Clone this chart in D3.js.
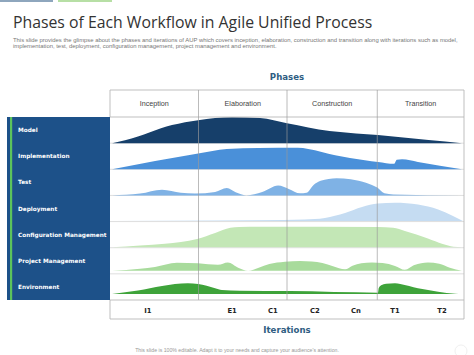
<!DOCTYPE html>
<html><head><meta charset="utf-8">
<script src="https://cdn.jsdelivr.net/npm/d3@7"></script>
<style>body{margin:0;background:#fff}svg{display:block}</style>
</head><body>
<svg id="c" width="474" height="355"></svg>
<script>
const phases = ["Inception", "Elaboration", "Construction", "Transition"];
const phaseBounds = [0, 25, 50, 75.5, 100];
const workflows = ["Model", "Implementation", "Test", "Deployment", "Configuration Management", "Project Management", "Environment"];
const iterations = ["I1", "E1", "C1", "C2", "Cn", "T1", "T2"];
const iterationPos = [10.7, 34.5, 46, 57.9, 69.5, 80.5, 93.8];

// effort profiles: [time (0-100), relative effort (0-1 of row)]
const modelValues = [[0.6,0],[7.9,.25],[11.3,.42],[17.5,.69],[24.9,.88],[34.5,.99],[42.4,.96],[50,.76],[62,.46],[69.5,.37],[75.7,.31],[90,.12],[99.4,0]];
const implementationValues = [[0.6,0],[24.9,.6],[33,.78],[42,.81],[53,.82],[56,.78],[63.6,.54],[72,.35],[75.7,.28],[80.3,.21],[81,.36],[82.5,.38],[87,.28],[99.4,0]];
const testValues = [[0.6,0],[8.5,.07],[14.7,.22],[20,.1],[24,.07],[29.7,.13],[33,.28],[35.5,.12],[38.5,0],[43,.13],[47.5,.38],[50.5,.25],[53.7,.08],[55.5,.1],[57.5,.4],[59.5,.56],[64,.66],[68,.62],[72.5,.48],[75.5,.3],[77.5,.08],[80,.04],[99.4,0]];
const deploymentValues = [[0.6,0],[30,.02],[49,.04],[55,.06],[60.7,.12],[66.4,.31],[71.2,.54],[75.7,.67],[80.5,.7],[87,.63],[92.7,.44],[96.6,.21],[99.7,0]];
const configValues = [[0.6,0],[8.5,.07],[15.5,.13],[24.6,.31],[29.7,.54],[34,.74],[36.5,.77],[42.4,.78],[75.7,.77],[80,.74],[83.3,.62],[89.8,.33],[94,.12],[97,.02],[99.4,0]];
const projectValues = [[0.6,0],[8.5,.08],[12.7,.15],[18.9,.31],[24.9,.29],[30.5,.23],[33.3,.32],[36.2,.12],[39,0],[42,.12],[45,.26],[49.4,.35],[53.7,.38],[57,.36],[60,.3],[63,.18],[66.4,.06],[68.5,.2],[71,.29],[74,.32],[77,.3],[80.5,.19],[83.3,.04],[86,.22],[89.8,.32],[93,.27],[96,.12],[99.4,0]];
const environmentValues = [[0.6,0],[7.9,.13],[14.7,.31],[22,.41],[24.9,.38],[29.7,.22],[31.6,.15],[36.7,.12],[50.8,.11],[75.7,.05],[75.9,.22],[76.6,.33],[78,.39],[80.5,.41],[82,.38],[87,.22],[92.7,.09],[97.5,.01],[99.4,0]];

const seriesValues = [modelValues, implementationValues, testValues, deploymentValues, configValues, projectValues, environmentValues];
const seriesColors = ["#163f6a", "#4a90d9", "#7fb2e5", "#c5dcf2", "#c3e7b6", "#a8db9c", "#3ea33a"];
const baselineInset = [0, 0, 0, 0.5, 0.5, 3, 6];

const svg = d3.select("#c");
const FONT = "'Open Sans', 'Liberation Sans', sans-serif";

// top decoration
svg.append("rect").attr("x", 0).attr("y", 0).attr("width", 53).attr("height", 2).attr("fill", "#8ea6bd");
svg.append("rect").attr("x", 58).attr("y", 0).attr("width", 54).attr("height", 2).attr("fill", "#b7dfa5");

// title + description
svg.append("text").attr("x", 13).attr("y", 28).text("Phases of Each Workflow in Agile Unified Process")
  .attr("font-family", FONT).attr("font-size", 15.8).attr("fill", "#333");
svg.append("text").attr("x", 13).attr("y", 41.5)
  .text("This slide provides the glimpse about the phases and iterations of AUP which covers inception, elaboration, construction and transition along with iterations such as model,")
  .attr("font-family", "'Liberation Sans', Arial, sans-serif").attr("font-size", 5.9).attr("fill", "#777");
svg.append("text").attr("x", 13).attr("y", 47.5)
  .text("implementation, test, deployment, configuration management, project management and environment.")
  .attr("font-family", "'Liberation Sans', Arial, sans-serif").attr("font-size", 5.9).attr("fill", "#777");

const x = d3.scaleLinear().domain([0, 100]).range([110, 464]);
const y = d3.scaleBand().domain(workflows).range([117, 300]);
const h = d3.scaleLinear().domain([0, 1]).range([0, y.bandwidth()]);

// label panel
svg.append("rect").attr("x", 7).attr("y", y.range()[0]).attr("width", x(0) - 7).attr("height", y.range()[1] - y.range()[0]).attr("fill", "#1d5189");
svg.append("rect").attr("x", 10).attr("y", y.range()[0]).attr("width", 2.2).attr("height", y.range()[1] - y.range()[0]).attr("fill", "#5cc45c");
svg.append("g").selectAll("text").data(workflows).join("text")
  .attr("x", 18).attr("y", d => y(d) + y.bandwidth() / 2).attr("dy", "0.35em")
  .text(d => d).attr("font-family", "'DejaVu Sans', sans-serif").attr("font-weight", "bold")
  .attr("font-size", 5.75).attr("fill", "#fff");

// horizontal grid lines
svg.append("g").selectAll("line").data(workflows.slice(0, -1)).join("line")
  .attr("x1", x(0)).attr("x2", x(100))
  .attr("y1", d => y(d) + y.bandwidth()).attr("y2", d => y(d) + y.bandwidth())
  .attr("stroke", "#d6d6d6").attr("stroke-width", 0.8);

// areas
workflows.forEach((w, i) => {
  const base = y(w) + y.bandwidth() - baselineInset[i];
  const area = d3.area().x(d => x(d[0])).y0(base).y1(d => base - h(d[1])).curve(d3.curveMonotoneX);
  svg.append("path").datum(seriesValues[i]).attr("d", area).attr("fill", seriesColors[i]);
});

// header box
const yTop = 90, hdrBottom = y.range()[0], chartBottom = y.range()[1], iterBottom = 319;
const gridColor = "#b8b8b8";
svg.append("line").attr("x1", x(0)).attr("x2", x(100)).attr("y1", yTop).attr("y2", yTop).attr("stroke", gridColor).attr("stroke-width", 0.9);
svg.append("line").attr("x1", x(0)).attr("x2", x(100)).attr("y1", hdrBottom).attr("y2", hdrBottom).attr("stroke", gridColor).attr("stroke-width", 0.9);
svg.append("line").attr("x1", x(0)).attr("x2", x(0)).attr("y1", yTop).attr("y2", hdrBottom).attr("stroke", gridColor).attr("stroke-width", 0.9);
svg.append("line").attr("x1", x(100)).attr("x2", x(100)).attr("y1", yTop).attr("y2", iterBottom).attr("stroke", gridColor).attr("stroke-width", 0.9);
svg.append("g").selectAll("line").data(phaseBounds.slice(1, -1)).join("line")
  .attr("x1", d => x(d)).attr("x2", d => x(d)).attr("y1", yTop).attr("y2", chartBottom)
  .attr("stroke", "#9a9a9a").attr("stroke-opacity", 0.75).attr("stroke-width", 0.9);
// iteration box
svg.append("line").attr("x1", x(0)).attr("x2", x(100)).attr("y1", chartBottom).attr("y2", chartBottom).attr("stroke", gridColor).attr("stroke-width", 0.9);
svg.append("line").attr("x1", x(0)).attr("x2", x(100)).attr("y1", iterBottom).attr("y2", iterBottom).attr("stroke", gridColor).attr("stroke-width", 0.9);
svg.append("line").attr("x1", x(0)).attr("x2", x(0)).attr("y1", chartBottom).attr("y2", iterBottom).attr("stroke", gridColor).attr("stroke-width", 0.9);

// phase labels
svg.append("g").selectAll("text").data(phases).join("text")
  .attr("x", (d, i) => x((phaseBounds[i] + phaseBounds[i + 1]) / 2)).attr("y", 106)
  .attr("text-anchor", "middle").text(d => d)
  .attr("font-family", "'Liberation Sans', Arial, sans-serif").attr("font-size", 7.2).attr("fill", "#444");

// iteration labels
svg.append("g").selectAll("text").data(iterations).join("text")
  .attr("x", (d, i) => x(iterationPos[i])).attr("y", 313)
  .attr("text-anchor", "middle").text(d => d)
  .attr("font-family", "'DejaVu Sans', sans-serif").attr("font-weight", "bold").attr("font-size", 6.8).attr("fill", "#222");

svg.append("text").attr("x", x(50)).attr("y", 80).attr("text-anchor", "middle").text("Phases")
  .attr("font-family", "'DejaVu Sans', sans-serif").attr("font-weight", "bold").attr("font-size", 8.6).attr("fill", "#2f5d82");
svg.append("text").attr("x", x(50)).attr("y", 333).attr("text-anchor", "middle").text("Iterations")
  .attr("font-family", "'DejaVu Sans', sans-serif").attr("font-weight", "bold").attr("font-size", 8.6).attr("fill", "#2f5d82");

// footer
svg.append("text").attr("x", 237).attr("y", 351.5).attr("text-anchor", "middle")
  .text("This slide is 100% editable. Adapt it to your needs and capture your audience's attention.")
  .attr("font-family", "'Liberation Sans', Arial, sans-serif").attr("font-size", 5.2).attr("fill", "#999");
svg.append("circle").attr("cx", 461).attr("cy", 351).attr("r", 6).attr("fill", "none").attr("stroke", "#f0f0f0");
</script>
</body></html>
